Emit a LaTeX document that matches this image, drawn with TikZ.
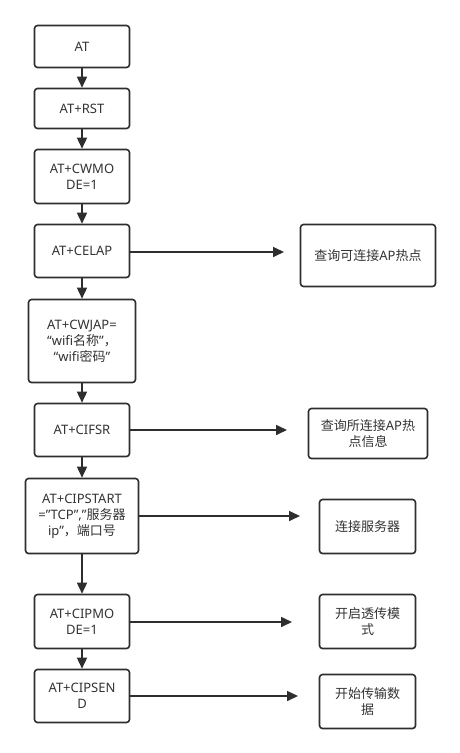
\documentclass[tikz,border=0pt]{standalone}
\usepackage{fontspec}
\setmainfont{Noto Sans}
\newfontfamily\cjk{Noto Sans CJK SC}
\usetikzlibrary{arrows.meta}
\definecolor{ln}{HTML}{2E2E2E}
\definecolor{tx}{HTML}{333333}
\newcommand{\qd}{\char34\relax}
\begin{document}
\begin{tikzpicture}[x=1pt,y=-1pt,
  box/.style={draw=ln,line width=1.6pt,rounded corners=3pt,align=center,text=tx,
    font=\fontsize{13}{16}\selectfont,inner sep=1pt},
  arr/.style={draw=ln,line width=1.6pt,-{Triangle[length=11pt,width=10pt]}}]
\useasboundingbox (0,0) rectangle (460,753);
\fill[white] (0,0) rectangle (460,753);
\node[box,minimum width=95pt,minimum height=42pt] (n1) at (82,46.5) {AT};
\node[box,minimum width=95pt,minimum height=40pt] (n2) at (82,108.5) {AT+RST};
\node[box,minimum width=95pt,minimum height=54pt] (n3) at (82,176.5) {AT+CWMO\\DE=1};
\node[box,minimum width=95pt,minimum height=53pt] (n4) at (82,251) {AT+CELAP};
\node[box,minimum width=107pt,minimum height=83pt] (n5) at (82,341) {AT+CWJAP=\\“wifi{\cjk 名称}”{\cjk ，}\\“wifi{\cjk 密码}”};
\node[box,minimum width=95pt,minimum height=53pt] (n6) at (82,430) {AT+CIFSR};
\node[box,minimum width=113pt,minimum height=75pt] (n7) at (82,516) {AT+CIPSTART\\=\qd TCP\qd,\qd{\cjk 服务器}\\ip\qd{\cjk ，端口号}};
\node[box,minimum width=95pt,minimum height=54pt] (n8) at (82,621.5) {AT+CIPMO\\DE=1};
\node[box,minimum width=95pt,minimum height=53pt] (n9) at (82,696) {AT+CIPSEN\\D};
\node[box,minimum width=135pt,minimum height=62pt] (ra) at (368,255.5) {{\cjk 查询可连接}AP{\cjk 热点}};
\node[box,minimum width=119pt,minimum height=50pt] (rb) at (368,433.5) {{\cjk 查询所连接}AP{\cjk 热}\\{\cjk 点信息}};
\node[box,minimum width=96pt,minimum height=54pt] (rc) at (367.5,526.5) {\cjk 连接服务器};
\node[box,minimum width=96pt,minimum height=54pt] (rd) at (367.5,621.5) {\cjk 开启透传模\\\cjk 式};
\node[box,minimum width=96pt,minimum height=54pt] (re) at (367.5,701.5) {\cjk 开始传输数\\\cjk 据};
\coordinate (ea) at (284,252);
\coordinate (eb) at (287,430);
\coordinate (ec) at (300,516);
\coordinate (ed) at (292,622);
\coordinate (ee) at (298,696);
\draw[arr] (n1) -- (n2);
\draw[arr] (n2) -- (n3);
\draw[arr] (n3) -- (n4);
\draw[arr] (n4) -- (n5);
\draw[arr] (n5) -- (n6);
\draw[arr] (n6) -- (n7);
\draw[arr] (n7) -- (n8);
\draw[arr] (n8) -- (n9);
\draw[arr] (n4.east |- ea) -- (ea);
\draw[arr] (n6.east |- eb) -- (eb);
\draw[arr] (n7.east |- ec) -- (ec);
\draw[arr] (n8.east |- ed) -- (ed);
\draw[arr] (n9.east |- ee) -- (ee);
\end{tikzpicture}
\end{document}
